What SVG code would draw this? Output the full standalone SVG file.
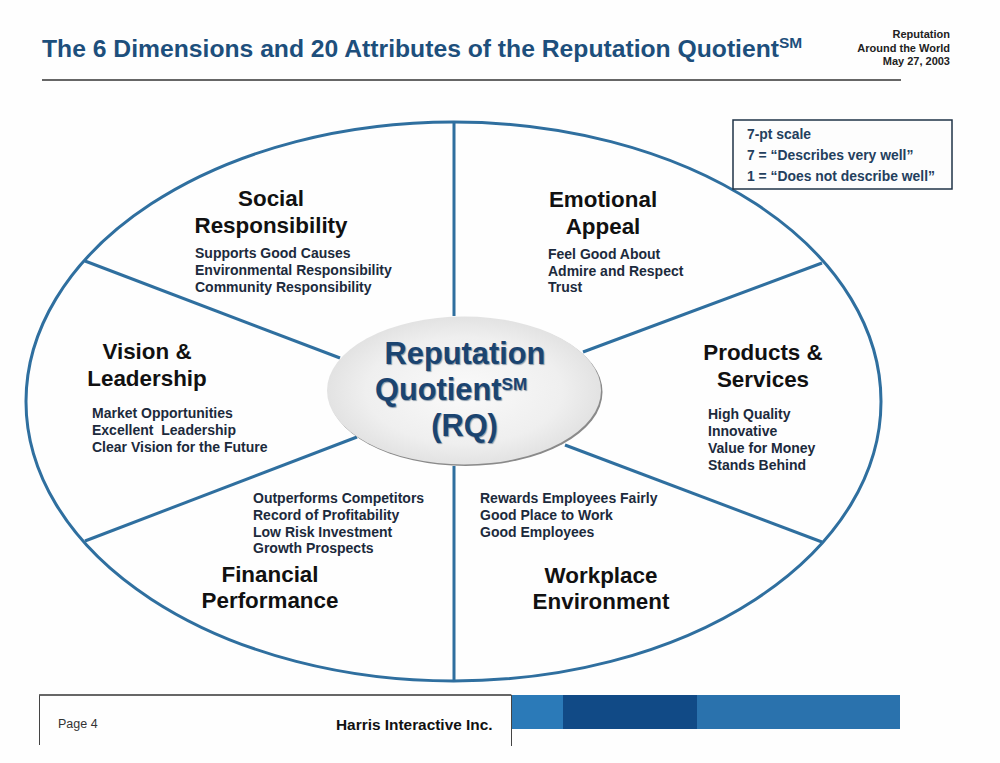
<svg xmlns="http://www.w3.org/2000/svg" width="1000" height="763" viewBox="0 0 1000 763">
<style>
text{font-family:"Liberation Sans",Arial,sans-serif;fill:#111}
.h{font-size:22.4px;font-weight:700;text-anchor:middle}
.i{font-size:14px;font-weight:700;fill:#1c2a3c}
.l{stroke:#2f6f9f;stroke-width:3;fill:none}
.c{font-size:30.8px;font-weight:700;fill:#1b4470;text-anchor:middle;text-shadow:1px 1px 1px #8a9aa8}
.s{font-size:13.9px;font-weight:700;fill:#24405e}
.m{font-size:11px;font-weight:700;text-anchor:end;fill:#222}
</style>
<defs>
<radialGradient id="g" cx="50%" cy="50%" r="55%"><stop offset="0" stop-color="#fafafa"/><stop offset="0.65" stop-color="#efefef"/><stop offset="1" stop-color="#dedede"/></radialGradient>
</defs>
<rect width="1000" height="763" fill="#fefefe"/>
<g id="header">
<text x="42" y="57" style="font-size:24.7px;font-weight:700;fill:#1d4f7c">The 6 Dimensions and 20 Attributes of the Reputation Quotient<tspan font-size="15.500" dy="-9">SM</tspan></text>
<text class="m" x="950" y="38">Reputation</text>
<text class="m" x="950" y="51.500">Around the World</text>
<text class="m" x="950" y="65">May 27, 2003</text>
<line x1="42" y1="80" x2="901" y2="80" stroke="#333" stroke-width="1.500"/>
</g>
<g id="connectors">
<ellipse class="l" cx="453.500" cy="401.500" rx="427.500" ry="279.500"/>
<line class="l" x1="454" y1="122" x2="454" y2="316"/>
<line class="l" x1="454" y1="466" x2="454" y2="681"/>
<line class="l" x1="85" y1="261" x2="340" y2="358"/>
<line class="l" x1="565" y1="445" x2="822" y2="542"/>
<line class="l" x1="822" y1="263" x2="583" y2="352"/>
<line class="l" x1="357" y1="437" x2="85" y2="541"/>
</g>
<g id="scale">
<rect x="733" y="120" width="219" height="69" fill="#fdfdfd" stroke="#1f3347" stroke-width="1.500"/>
<text class="s" x="747" y="139">7-pt scale</text>
<text class="s" x="747" y="160">7 = “Describes very well”</text>
<text class="s" x="747" y="181">1 = “Does not describe well”</text>
</g>
<g id="center">
<ellipse cx="465.500" cy="392" rx="137" ry="74" fill="#8a8a8a"/>
<ellipse cx="464" cy="390.500" rx="137" ry="74" fill="url(#g)"/>
<text class="c" x="465" y="364">Reputation</text>
<text class="c" x="451" y="400">Quotient<tspan font-size="17" dy="-10">SM</tspan></text>
<text class="c" x="464.500" y="436">(RQ)</text>
</g>
<g id="social">
<text class="h" x="271" y="206">Social</text>
<text class="h" x="271" y="233">Responsibility</text>
<text class="i" x="195" y="258">Supports Good Causes</text>
<text class="i" x="195" y="275">Environmental Responsibility</text>
<text class="i" x="195" y="292">Community Responsibility</text>
</g>
<g id="emotional">
<text class="h" x="603" y="207">Emotional</text>
<text class="h" x="603" y="234">Appeal</text>
<text class="i" x="548" y="259">Feel Good About</text>
<text class="i" x="548" y="276">Admire and Respect</text>
<text class="i" x="548" y="292">Trust</text>
</g>
<g id="vision">
<text class="h" x="147" y="359">Vision &amp;</text>
<text class="h" x="147" y="386">Leadership</text>
<text class="i" x="92" y="418">Market Opportunities</text>
<text class="i" x="92" y="435" xml:space="preserve">Excellent  Leadership</text>
<text class="i" x="92" y="452">Clear Vision for the Future</text>
</g>
<g id="products">
<text class="h" x="763" y="360">Products &amp;</text>
<text class="h" x="763" y="387">Services</text>
<text class="i" x="708" y="419">High Quality</text>
<text class="i" x="708" y="436">Innovative</text>
<text class="i" x="708" y="453">Value for Money</text>
<text class="i" x="708" y="470">Stands Behind</text>
</g>
<g id="financial">
<text class="i" x="253" y="503">Outperforms Competitors</text>
<text class="i" x="253" y="520">Record of Profitability</text>
<text class="i" x="253" y="537">Low Risk Investment</text>
<text class="i" x="253" y="553">Growth Prospects</text>
<text class="h" x="270" y="582">Financial</text>
<text class="h" x="270" y="608">Performance</text>
</g>
<g id="workplace">
<text class="i" x="480" y="503">Rewards Employees Fairly</text>
<text class="i" x="480" y="520">Good Place to Work</text>
<text class="i" x="480" y="537">Good Employees</text>
<text class="h" x="601" y="583">Workplace</text>
<text class="h" x="601" y="609">Environment</text>
</g>
<g id="footer">
<path d="M39.500 745V695H511.500V746" fill="none" stroke="#444" stroke-width="1"/>
<line x1="39" y1="695" x2="511" y2="695" stroke="#555" stroke-width="1.500"/>
<rect x="512" y="695" width="388" height="34" fill="#2a72ad"/>
<rect x="512" y="695" width="51" height="34" fill="#2b7ab8"/>
<rect x="563" y="695" width="134" height="34" fill="#114a86"/>
<text x="58" y="728" style="font-size:12.500px;fill:#333">Page 4</text>
<text x="336" y="730" style="font-size:15.400px;font-weight:700">Harris Interactive Inc.</text>
</g>
</svg>
